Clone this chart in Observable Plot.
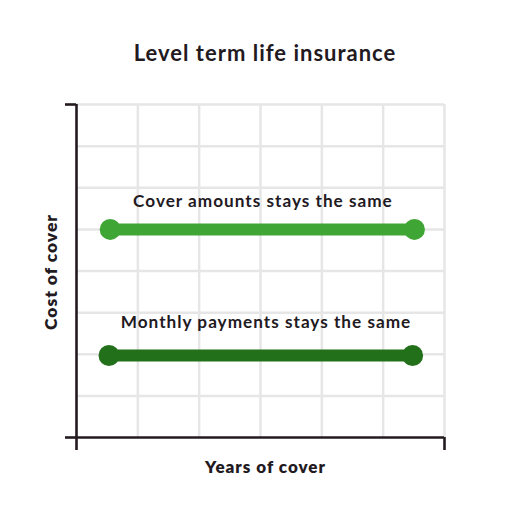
<!DOCTYPE html>
<html>
<head>
<meta charset="utf-8">
<script src="https://cdn.jsdelivr.net/npm/d3@7"></script>
<script src="https://cdn.jsdelivr.net/npm/@observablehq/plot@0.6"></script>
<style>
  html, body { margin: 0; padding: 0; background: #fff; }
  body { width: 510px; height: 511px; overflow: hidden; font-family: Lato, "Open Sans", sans-serif; }
  #title { position: relative; height: 85px; width: 510px; }
  #title span { position: absolute; left: 0; width: 530px; text-align: center; top: 42px; line-height: 1; font-size: 22px; font-weight: 700; color: #231a1f; letter-spacing: 1px; }
  #chart svg { display: block; }
</style>
</head>
<body>
<div id="title"><span id="titleText"></span></div>
<div id="chart"></div>
<script>
const titleText = "Level term life insurance";
const xLabel = "Years of cover";
const yLabel = "Cost of cover";

const xDomain = [0, 6];
const yDomain = [0, 8];
const xGrid = [1, 2, 3, 4, 5, 6];
const yGrid = [1, 2, 3, 4, 5, 6, 7, 8];
const xEndTicks = [0, 6];
const yEndTicks = [0, 8];

const seriesNames = ["Cover amounts stays the same", "Monthly payments stays the same"];
const coverX = [0.55, 5.51];
const coverY = [5, 5];
const paymentX = [0.53, 5.48];
const paymentY = [1.97, 1.97];

const labelX = [3.04, 3.09];
const labelY = [5.68, 2.77];

const colors = ["#3fa535", "#23701a"];
const ink = "#231a1f";

document.getElementById("titleText").textContent = titleText;

const points = [
  ...coverX.map((x, i) => ({series: seriesNames[0], x, y: coverY[i]})),
  ...paymentX.map((x, i) => ({series: seriesNames[1], x, y: paymentY[i]}))
];
const labels = seriesNames.map((name, i) => ({name, x: labelX[i], y: labelY[i]}));

const chart = Plot.plot({
  width: 510,
  height: 426,
  marginTop: 19,
  marginBottom: 74,
  marginLeft: 76,
  marginRight: 66,
  style: {color: ink, fontFamily: "Lato, 'Open Sans', sans-serif", background: "#fff", letterSpacing: "1px"},
  x: {domain: xDomain},
  y: {domain: yDomain},
  color: {domain: seriesNames, range: colors},
  marks: [
    Plot.ruleX(xGrid, {stroke: "#e6e6e6", strokeWidth: 2.5}),
    Plot.ruleY(yGrid, {stroke: "#e6e6e6", strokeWidth: 2.5}),
    Plot.axisX({ticks: xEndTicks, tickSize: 13, tickFormat: () => "", label: null, strokeWidth: 2.6}),
    Plot.axisY({ticks: yEndTicks, tickSize: 11, tickFormat: () => "", label: null, strokeWidth: 2.6}),
    Plot.ruleX([xDomain[0]], {stroke: ink, strokeWidth: 2.6}),
    Plot.ruleY([yDomain[0]], {stroke: ink, strokeWidth: 2.6}),
    Plot.line(points, {x: "x", y: "y", z: "series", stroke: "series", strokeWidth: 12}),
    Plot.dot(points, {x: "x", y: "y", fill: "series", r: 10.5}),
    Plot.text(labels, {x: "x", y: "y", text: "name", fill: ink, fontSize: 17.2, fontWeight: 700}),
    Plot.text([xLabel], {frameAnchor: "bottom", lineAnchor: "middle", textAnchor: "middle", dx: 5, dy: 29.6, fill: ink, fontSize: 17, fontWeight: 800}),
    Plot.text([yLabel], {frameAnchor: "left", lineAnchor: "middle", textAnchor: "middle", rotate: -90, dx: -25, dy: 1, fill: ink, fontSize: 17.4, fontWeight: 800})
  ]
});
document.getElementById("chart").appendChild(chart);
</script>
</body>
</html>
